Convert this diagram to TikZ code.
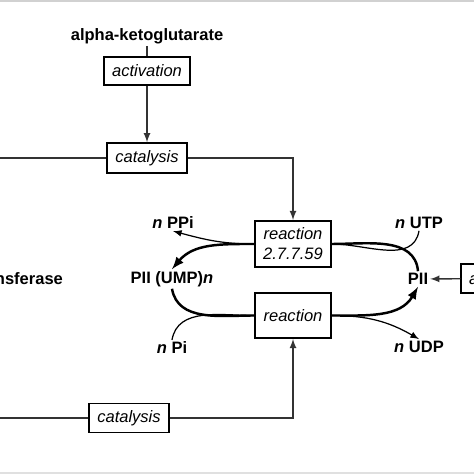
\documentclass[tikz,border=0pt]{standalone}
\usepackage{fontspec}
\setmainfont{Liberation Sans}
\usepackage{tikz}

\begin{document}
\begin{tikzpicture}[font=\fontsize{9.4}{11.4}\selectfont]
	\tikzstyle{box} = [draw, line width=0.8pt, inner sep=0pt, font=\fontsize{9.4}{11.4}\selectfont\itshape]
	\tikzstyle{rbox} = [draw, line width=1.1pt, inner sep=0pt, align=center, font=\fontsize{9.4}{11.4}\selectfont\itshape]
	\tikzstyle{mol} = [inner sep=1pt, font=\fontsize{9.4}{11.4}\selectfont\bfseries]
	\tikzstyle{link} = [line width=0.8pt, draw=black!80]
	\tikzstyle{main} = [line width=1.4pt]
	\tikzstyle{side} = [line width=0.7pt]
	\useasboundingbox (0,0) rectangle (9.48,9.48);
	\fill[black!18] (0,9.44) rectangle (9.48,9.48);
	\fill[black!12] (0,0) rectangle (9.48,0.04);
	\clip (0,0) rectangle (9.48,9.48);
	\node[mol] (akg) at (2.94, 8.76) {alpha-ketoglutarate};
	\node[box, minimum width=1.72cm, minimum height=0.56cm] (act) at (2.94, 8.06) {activation};
	\node[box, minimum width=1.6cm, minimum height=0.6cm] (cat1) at (2.94, 6.32) {catalysis};
	\node[rbox, minimum width=1.52cm, minimum height=0.92cm] (rea1) at (5.86, 4.60) {reaction\\ 2.7.7.59};
	\node[rbox, minimum width=1.52cm, minimum height=0.90cm] (rea2) at (5.86, 3.17) {reaction};
	\node[box, minimum width=1.6cm, minimum height=0.58cm] (cat2) at (2.58, 1.12) {catalysis};
	\node[box, minimum width=1.72cm, minimum height=0.58cm] (act2) at (10.08, 3.91) {activation};
	\node[mol] (pii) at (8.36, 3.90) {PII};
	\node[mol] (piiump) at (3.44, 3.90) {PII (UMP)\textit{n}};
	\node[mol] (ppi) at (3.46, 5.02) {\textit{n} PPi};
	\node[mol] (utp) at (8.38, 5.02) {\textit{n} UTP};
	\node[mol] (pi) at (3.44, 2.52) {\textit{n} Pi};
	\node[mol] (udp) at (8.38, 2.54) {\textit{n} UDP};
	\node[mol, anchor=east] (trans) at (1.30, 3.90) {nsferase};
	\coordinate (lt) at (-0.2, 6.32);
	\coordinate (lb) at (-0.2, 1.12);
	\coordinate (rea1t) at (5.86, 6.32);
	\coordinate (rea2b) at (5.86, 1.12);
	% regulation
	\draw [link] (akg) -- (act);
	\draw [link, -latex] (act) -- (cat1);
	\draw [link] (lt) -- (cat1);
	\draw [link, -latex] (cat1) -- (rea1t) -- (rea1);
	\draw [link] (lb) -- (cat2);
	\draw [link, -latex] (cat2) -- (rea2b) -- (rea2);
	\draw [link, -latex] (act2) -- (pii);
	% uridylylation
	\draw [main] (pii.north) to[out=95, in=0] (rea1.east);
	\draw [main, -latex] (rea1.west) to[out=180, in=50] (piiump.north);
	\draw [side] (utp.south) to[out=-100, in=0] (rea1.east);
	\draw [side, -latex] (rea1.west) to[out=180, in=-15] (ppi.south);
	% deuridylylation
	\draw [main] (piiump.south) to[out=-80, in=180] (rea2.west);
	\draw [main, -latex] (rea2.east) to[out=0, in=-120] (pii.south);
	\draw [side] (pi.north) to[out=80, in=180] (rea2.west);
	\draw [side, -latex] (rea2.east) to[out=0, in=150] (udp.north);
\end{tikzpicture}
\end{document}
